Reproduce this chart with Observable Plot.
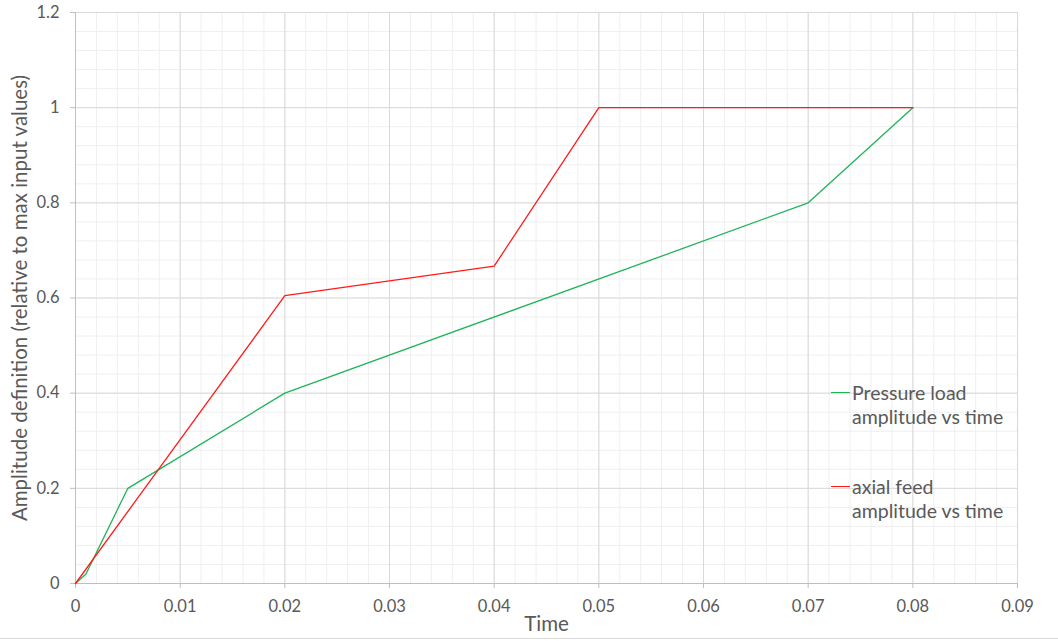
<!DOCTYPE html>
<html>
<head>
<meta charset="utf-8">
<script src="https://cdn.jsdelivr.net/npm/d3@7"></script>
<script src="https://cdn.jsdelivr.net/npm/@observablehq/plot@0.6"></script>
<style>
  html, body { margin: 0; padding: 0; background: #fff; }
  #wrap { position: relative; width: 1058px; height: 641px; overflow: hidden; }
  #wrap svg { position: absolute; left: 0; top: 0; }
  .leg { position: absolute; font-family: Lato, "Open Sans", sans-serif; font-size: 19.5px; line-height: 24px; color: #595959; }
  .leg .sw { position: absolute; left: -21px; top: 11px; width: 19px; height: 0; border-top: 1.3px solid; }
  #bottomline { position: absolute; left: 0; top: 638px; width: 1058px; height: 0; border-top: 1px solid #d9d9d9; }
</style>
</head>
<body>
<div id="wrap"></div>
<script>
// Series: Pressure load amplitude vs time (green)
const pressureTime = [0, 0.001, 0.005, 0.02, 0.07, 0.08];
const pressureAmp  = [0, 0.02, 0.2, 0.4, 0.8, 1.0];
// Series: axial feed amplitude vs time (red)
const axialTime = [0, 0.02, 0.04, 0.05, 0.08];
const axialAmp  = [0, 0.605, 0.667, 1.0, 1.0];
// Tick labels
const xTicks = [0, 0.01, 0.02, 0.03, 0.04, 0.05, 0.06, 0.07, 0.08, 0.09];
const xTickLabels = ["0", "0.01", "0.02", "0.03", "0.04", "0.05", "0.06", "0.07", "0.08", "0.09"];
const yTicks = [0, 0.2, 0.4, 0.6, 0.8, 1.0, 1.2];
const yTickLabels = ["0", "0.2", "0.4", "0.6", "0.8", "1", "1.2"];
const seriesNames = ["Pressure load amplitude vs time", "axial feed amplitude vs time"];
const seriesColors = ["#1fb35a", "#ff1a1a"];

const pressure = pressureTime.map((t, i) => ({t, a: pressureAmp[i]}));
const axial = axialTime.map((t, i) => ({t, a: axialAmp[i]}));
const xMinor = d3.range(0, 45).map(i => i * 0.002);
const yMinor = d3.range(0, 30).map(i => i * 0.04);
const xFmt = (d) => xTickLabels[xTicks.findIndex(v => Math.abs(v - d) < 1e-9)];
const yFmt = (d) => yTickLabels[yTicks.findIndex(v => Math.abs(v - d) < 1e-9)];

const font = 'Lato, "Open Sans", sans-serif';
const chart = Plot.plot({
  width: 1058,
  height: 641,
  marginLeft: 75,
  marginRight: 41,
  marginTop: 12,
  marginBottom: 58,
  style: {fontFamily: font, background: "transparent", overflow: "visible"},
  x: {domain: [0, 0.09]},
  y: {domain: [0, 1.2]},
  marks: [
    Plot.ruleX(xMinor, {stroke: "#efefef", strokeWidth: 1}),
    Plot.ruleY(yMinor, {stroke: "#efefef", strokeWidth: 1}),
    Plot.ruleX(xTicks, {stroke: "#d9d9d9", strokeWidth: 1}),
    Plot.ruleY(yTicks, {stroke: "#d9d9d9", strokeWidth: 1}),
    Plot.axisX({ticks: xTicks, tickSize: 5, tickPadding: 12, stroke: "#bfbfbf", fill: "#595959", fontSize: 16.5,
      tickFormat: xFmt, label: null}),
    Plot.axisY({ticks: yTicks, tickSize: 5, tickPadding: 11, stroke: "#bfbfbf", fill: "#595959", fontSize: 16.5,
      tickFormat: yFmt, label: null}),
    Plot.ruleY([0], {stroke: "#bfbfbf"}),
    Plot.ruleX([0], {stroke: "#bfbfbf"}),
    Plot.line(pressure, {x: "t", y: "a", stroke: seriesColors[0], strokeWidth: 1.3}),
    Plot.line(axial, {x: "t", y: "a", stroke: seriesColors[1], strokeWidth: 1.3}),
    Plot.text(["Time"], {frameAnchor: "bottom", dy: 47, fontSize: 20.5, fill: "#595959"}),
    Plot.text(["Amplitude definition (relative to max input values)"], {frameAnchor: "left", textAnchor: "middle", dx: -55, rotate: -90, fontSize: 20.5, fill: "#595959"})
  ]
});

const wrap = document.getElementById("wrap");
wrap.appendChild(chart);

const legTops = [381, 475];
seriesNames.forEach((name, i) => {
  const d = document.createElement("div");
  d.className = "leg";
  d.style.left = "852px";
  d.style.top = legTops[i] + "px";
  d.style.width = "158px";
  const sw = document.createElement("div");
  sw.className = "sw";
  sw.style.borderTopColor = seriesColors[i];
  d.appendChild(sw);
  d.appendChild(document.createTextNode(name));
  wrap.appendChild(d);
});
const bl = document.createElement("div");
bl.id = "bottomline";
wrap.appendChild(bl);
</script>
</body>
</html>
